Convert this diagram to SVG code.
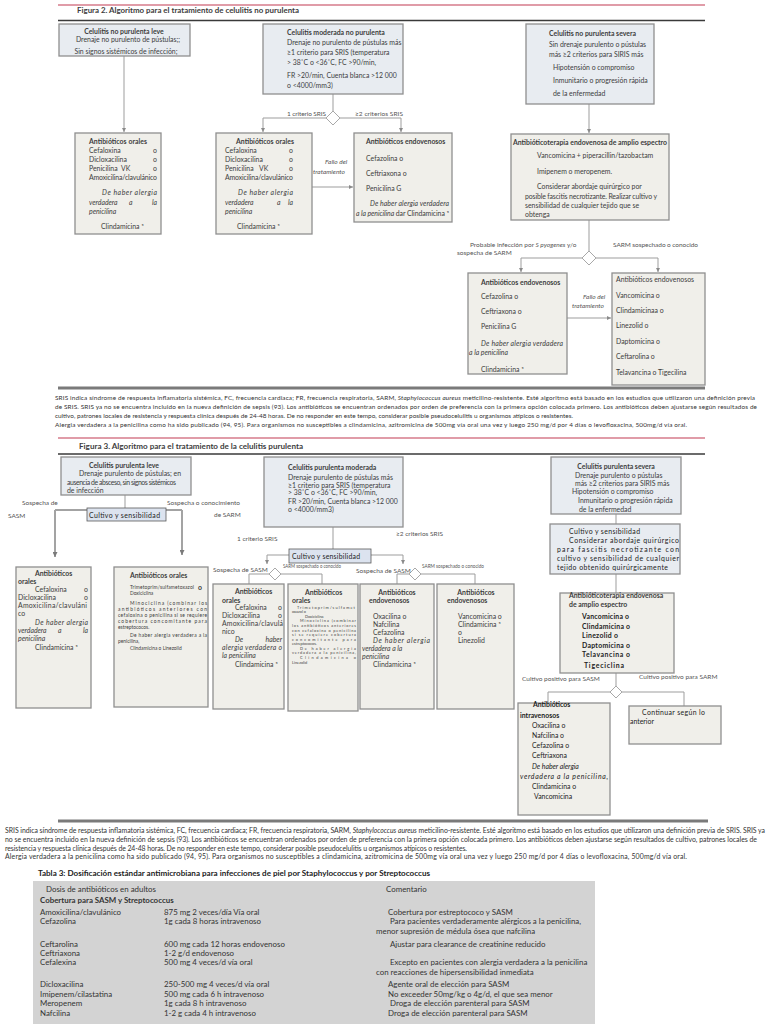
<svg xmlns="http://www.w3.org/2000/svg" width="768" height="1024" viewBox="0 0 768 1024">
<defs>
<marker id="ah" viewBox="0 0 6 6" refX="6" refY="3" markerWidth="4" markerHeight="4" markerUnits="userSpaceOnUse" orient="auto"><path d="M0,0 L6,3 L0,6 z" fill="#8a8a8a"/></marker>
<marker id="ah2" viewBox="0 0 6 6" refX="6" refY="3" markerWidth="5" markerHeight="5" markerUnits="userSpaceOnUse" orient="auto"><path d="M0,0 L6,3 L0,6 z" fill="#7a7a7a"/></marker>
<style>
text{font-family:Lato,"Liberation Sans",sans-serif;fill:#3d3d3d;font-size:6.9px}
.b{font-weight:bold}
.i{font-style:italic}
.m{text-anchor:middle}
.e{text-anchor:end}
.blue{fill:#e8ecf1;stroke:#8f8f8f;stroke-width:1.3}
.beige{fill:#f0efea;stroke:#8f8f8f;stroke-width:1.3}
.cult{fill:#dce3ef;stroke:#5a5a5a;stroke-width:0.8}
.c{stroke:#9d9d9d;stroke-width:1;fill:none}
.ct{stroke:#a3a3a3;stroke-width:2;fill:none}
.dia{fill:#fff;stroke:#a8a8a8;stroke-width:1}
.lbl{font-size:6.5px;fill:#555}
.cap{font-size:6.4px;fill:#333}
.cap2{font-size:6.9px;fill:#333}
.tb{font-size:7.9px;fill:#333}
.k{fill:#222}
.sm{font-size:3.9px}
.sc{font-size:4.9px}
</style>
</defs>
<rect width="768" height="1024" fill="#ffffff"/>

<!-- ===== Figure 2 header ===== -->
<line x1="58" y1="5" x2="705" y2="5" stroke="#c23a52" stroke-width="1.2"/>
<text class="b" x="77" y="13" font-size="7.2" textLength="222" lengthAdjust="spacingAndGlyphs">Figura 2. Algoritmo para el tratamiento de celulitis no purulenta</text>
<line x1="58" y1="20.5" x2="705" y2="20.5" stroke="#3a3a3a" stroke-width="1.3"/>

<!-- ===== Figure 2 connectors ===== -->
<g id="connectors-fig2">
<path class="c" d="M124,56 V132" marker-end="url(#ah)"/>
<path class="c" d="M333,94 V111"/>
<path class="c" d="M326,118 H263 V132" marker-end="url(#ah)"/>
<path class="c" d="M340,118 H401 V132" marker-end="url(#ah)"/>
<polygon class="dia" points="333,111 340,118 333,125 326,118"/>
<path class="c" d="M312,187 H353" marker-end="url(#ah)"/>
<path class="c" d="M589,104 V133" marker-end="url(#ah)"/>
<path class="c" d="M589,220 V251"/>
<path class="c" d="M582,258 H521 V272" marker-end="url(#ah)"/>
<path class="c" d="M596,258 H658 V272" marker-end="url(#ah)"/>
<polygon class="dia" points="589,251 596,258 589,265 582,258"/>
<path class="c" d="M567,318 H611" marker-end="url(#ah)"/>
<text class="lbl" x="287" y="116" textLength="39" lengthAdjust="spacing">1 criterio SRIS</text>
<text class="lbl" x="355" y="116" textLength="48" lengthAdjust="spacing">≥2 criterios SRIS</text>
<text class="lbl i" x="325" y="164">Fallo del</text>
<text class="lbl i" x="313" y="174">tratamiento</text>
<text class="lbl" x="470" y="247" font-size="5.9">Probable infección por <tspan font-style="italic">S pyogenes</tspan> y/o</text>
<text class="lbl" x="457" y="255" font-size="6">sospecha de SARM</text>
<text class="lbl" x="613" y="247" textLength="85" lengthAdjust="spacing">SARM sospechado o conocido</text>
<text class="lbl i" x="583" y="299">Fallo del</text>
<text class="lbl i" x="572" y="308">tratamiento</text>
</g>

<!-- ===== Figure 2 nodes ===== -->
<g id="f2-leve">
<rect class="blue" x="59" y="24" width="131" height="32"/>
<text class="b m" x="124" y="34" font-size="6.7">Celulitis no purulenta leve</text>
<text class="m" x="128" y="41.5">Drenaje no purulento de pústulas;;</text>
<text class="m" x="126" y="54">Sin signos sistémicos de infección;</text>
</g>
<g id="f2-moderada">
<rect class="blue" x="263" y="24" width="140" height="70"/>
<text class="b" x="287" y="35" font-size="6.8">Celulitis moderada no purulenta</text>
<text x="287" y="45" font-size="7.1">Drenaje no purulento de pústulas más</text>
<text x="287" y="55" font-size="7.1">≥1 criterio para SRIS (temperatura</text>
<text x="287" y="65" font-size="7.1">&gt; 38˚C o &lt;36˚C, FC &gt;90/min,</text>
<text x="287" y="78" font-size="7.1">FR &gt;20/min,  Cuenta blanca &gt;12 000</text>
<text x="287" y="88" font-size="7.1">o &lt;4000/mm3)</text>
</g>
<g id="f2-severa">
<rect class="blue" x="526" y="24" width="128" height="80"/>
<text class="b" x="549" y="36" font-size="7.4">Celulitis no purulenta severa</text>
<text x="549" y="47">Sin drenaje purulento o pústulas</text>
<text x="549" y="57">más ≥2  criterios para SIRIS más</text>
<text x="553" y="70">Hipotensión o compromiso</text>
<text x="553" y="83">Inmunitario o progresión rápida</text>
<text x="553" y="96">de la enfermedad</text>
</g>
<g id="f2-orales-1">
<rect class="beige" x="75" y="133" width="86" height="101"/>
<text class="b m" x="118" y="144" textLength="58" lengthAdjust="spacing">Antibióticos orales</text>
<text x="89" y="153">Cefaloxina</text><text class="e" x="157" y="153">o</text>
<text x="89" y="162">Dicloxacilina</text><text class="e" x="157" y="162">o</text>
<text x="89" y="171">Penicilina</text><text x="121" y="171">VK</text><text class="e" x="157" y="171">o</text>
<text x="89" y="180" textLength="68" lengthAdjust="spacing">Amoxicilina/clavulánico</text>
<text class="i" x="102" y="195" textLength="55" lengthAdjust="spacing">De haber alergia</text>
<text class="i" x="89" y="205">verdadera</text><text class="i" x="129" y="205">a</text><text class="i e" x="157" y="205">la</text>
<text class="i" x="89" y="214">penicilina</text>
<text x="101" y="229">Clindamicina ª</text>
</g>
<g id="f2-orales-2">
<rect class="beige" x="216" y="133" width="96" height="101"/>
<text class="b m" x="265" y="144" textLength="58" lengthAdjust="spacing">Antibióticos orales</text>
<text x="225" y="153">Cefaloxina</text><text class="e" x="293" y="153">o</text>
<text x="225" y="162">Dicloxacilina</text><text class="e" x="293" y="162">o</text>
<text x="225" y="171">Penicilina</text><text x="259" y="171">VK</text><text class="e" x="293" y="171">o</text>
<text x="225" y="180" textLength="68" lengthAdjust="spacing">Amoxicilina/clavulánico</text>
<text class="i" x="238" y="195" textLength="55" lengthAdjust="spacing">De haber alergia</text>
<text class="i" x="225" y="205">verdadera</text><text class="i" x="277" y="205">a</text><text class="i e" x="293" y="205">la</text>
<text class="i" x="225" y="214">penicilina</text>
<text x="237" y="229">Clindamicina ª</text>
</g>
<g id="f2-endovenosos-1">
<rect class="beige" x="354" y="133" width="98" height="89"/>
<text class="b" x="366" y="144" font-size="7.2">Antibióticos endovenosos</text>
<text x="366" y="161">Cefazolina o</text>
<text x="366" y="176">Ceftriaxona o</text>
<text x="366" y="191">Penicilina G</text>
<text class="i" x="370" y="206" textLength="79" lengthAdjust="spacing">De haber alergia verdadera</text>
<text x="356" y="216" textLength="93" lengthAdjust="spacing"><tspan font-style="italic">a la penicilina</tspan> dar Clindamicina ª</text>
</g>
<g id="f2-amplio">
<rect class="beige" x="511" y="134" width="158" height="86"/>
<text class="b m" x="590" y="145" font-size="7.1">Antibióticoterapia endovenosa de amplio espectro</text>
<text x="537" y="158" font-size="7.2">Vancomicina + piperacillin/tazobactam</text>
<text x="537" y="174" font-size="7.2">Imipenem o meropenem.</text>
<text x="537" y="189" font-size="7.2">Considerar abordaje quirúrgico por</text>
<text x="525" y="199" font-size="7.2" textLength="132" lengthAdjust="spacing">posible fascitis necrotizante. Realizar cultivo y</text>
<text x="525" y="208" font-size="7.2">sensibilidad de cualquier tejido que se</text>
<text x="525" y="217" font-size="7.2">obtenga</text>
</g>
<g id="f2-endovenosos-2">
<rect class="beige" x="468" y="273" width="99" height="101"/>
<text class="b" x="481" y="285" font-size="7.2">Antibióticos endovenosos</text>
<text x="481" y="299" font-size="7.1">Cefazolina o</text>
<text x="481" y="314" font-size="7.1">Ceftriaxona o</text>
<text x="481" y="329" font-size="7.1">Penicilina G</text>
<text class="i" x="481" y="346" font-size="7.1" textLength="82" lengthAdjust="spacing">De haber alergia verdadera</text>
<text class="i" x="469" y="355" font-size="7.1">a la penicilina</text>
<text x="481" y="372" font-size="7.1">Clindamicina ª</text>
</g>
<g id="f2-sarm">
<rect class="beige" x="612" y="273" width="93" height="112"/>
<text x="616" y="282" font-size="7.3">Antibióticos endovenosos</text>
<text x="616" y="298" font-size="7.1">Vancomicina o</text>
<text x="616" y="313" font-size="7.1">Clindamicinaa o</text>
<text x="616" y="328" font-size="7.1">Linezolid o</text>
<text x="616" y="344" font-size="7.1">Daptomicina o</text>
<text x="616" y="359" font-size="7.1">Ceftarolina o</text>
<text x="616" y="375" font-size="7.1">Telavancina o Tigecilina</text>
</g>
<line x1="58" y1="388" x2="705" y2="388" stroke="#7a7a7a" stroke-width="3"/>

<!-- ===== Caption 1 ===== -->
<g id="caption-1">
<text class="cap" x="55" y="400" textLength="700" lengthAdjust="spacing">SRIS indica síndrome de respuesta inflamatoria sistémica, FC, frecuencia cardiaca; FR, frecuencia respiratoria, SARM, <tspan font-style="italic">Staphylococcus aureus</tspan> meticilino-resistente. Esté algoritmo está basado en los estudios que utilizaron una definición previa</text>
<text class="cap" x="55" y="409" textLength="702" lengthAdjust="spacing">de SRIS. SRIS ya no se encuentra incluido en  la nueva definición de sepsis (93). Los antibióticos se encuentran ordenados por orden de preferencia con la primera opción colocada primero. Los antibióticos deben ajustarse según resultados de</text>
<text class="cap" x="55" y="418">cultivo, patrones locales de resistencia y respuesta clínica después de 24-48 horas. De no responder en este tempo, considerar posible pseudocelulitis u organismos atípicos o resistentes.</text>
<text class="cap" x="55" y="427" textLength="632" lengthAdjust="spacing">Alergia verdadera a la penicilina como ha sido publicado (94, 95). Para organismos no susceptibles a clindamicina, azitromicina de 500mg vía oral una vez y luego 250 mg/d por 4 días o  levofloxacina, 500mg/d vía oral.</text>
</g>

<!-- ===== Figure 3 header ===== -->
<line x1="58" y1="438" x2="705" y2="438" stroke="#c23a52" stroke-width="1.2"/>
<text class="b" x="79" y="449" font-size="7.2" textLength="224" lengthAdjust="spacingAndGlyphs">Figura 3.  Algoritmo para el tratamiento de la celulitis purulenta</text>
<line x1="58" y1="454" x2="705" y2="454" stroke="#3a3a3a" stroke-width="1.3"/>

<!-- ===== Figure 3 connectors ===== -->
<g id="connectors-fig3">
<path class="c" d="M125,495 V508" stroke-width="1.5"/>
<path class="ct" d="M55,510 H182"/>
<path class="ct" d="M55,510 V557" marker-end="url(#ah2)"/>
<path class="ct" d="M182,510 V555" marker-end="url(#ah2)"/>
<path class="c" d="M333,527 V549" stroke-width="1.5"/>
<path class="c" d="M267,555 H403"/>
<path class="c" d="M267,555 V564" marker-end="url(#ah)"/>
<path class="c" d="M403,555 V564" marker-end="url(#ah)"/>
<path class="c" d="M269,574 H249 V584"/>
<path class="c" d="M281,574 H322 V584"/>
<path class="c" d="M409,574 H397 V584"/>
<path class="c" d="M421,574 H475 V584"/>
<polygon class="dia" points="275,568 281,574 275,580 269,574"/>
<polygon class="dia" points="415,568 421,574 415,580 409,574"/>
<path class="c" d="M616,514 V524" stroke-width="1.5"/>
<path class="c" d="M616,574 V593" stroke-width="1.5"/>
<path class="c" d="M616,673 V686" stroke-width="1.5"/>
<path class="c" d="M610,692 H548 V703"/>
<path class="c" d="M622,692 H684 V706"/>
<polygon class="dia" points="616,686 622,692 616,698 610,692"/>
<text class="lbl" x="22" y="505" font-size="6.8">Sospecha de</text>
<text class="lbl" x="8" y="518" font-size="6.8">SASM</text>
<text class="lbl" x="167" y="505" font-size="6.8" textLength="73" lengthAdjust="spacing">Sospecha o conocimiento</text>
<text class="lbl" x="214" y="517" font-size="6.8">de SARM</text>
<text class="lbl" x="237" y="541" font-size="6">1 criterio SRIS</text>
<text class="lbl" x="396" y="536" font-size="6">≥2 criterios SRIS</text>
<text class="lbl" x="213" y="572" font-size="5.6">Sospecha de SASM</text>
<text class="lbl" x="283" y="568" font-size="4" textLength="58" lengthAdjust="spacingAndGlyphs">SARM sospechado o conocido</text>
<text class="lbl" x="356" y="573" font-size="5.6">Sospecha de SASM</text>
<text class="lbl" x="422" y="568" font-size="4" textLength="62" lengthAdjust="spacingAndGlyphs">SARM sospechado o conocido</text>
<text class="lbl" x="522" y="681" font-size="6.9">Cultivo positivo para SASM</text>
<text class="lbl" x="639" y="679" font-size="6.9">Cultivo positivo para SARM</text>
</g>

<!-- ===== Figure 3 nodes ===== -->
<g id="f3-leve">
<rect class="blue" x="61" y="457" width="130" height="38"/>
<text class="b m" x="124" y="468" font-size="6.6">Celulitis purulenta leve</text>
<text x="79" y="476" font-size="6.5">Drenaje purulento de pústulas; en</text>
<text x="67" y="485" font-size="6.5" textLength="109" lengthAdjust="spacing">ausencia de absceso, sin signos sistémicos</text>
<text x="67" y="493" font-size="6.5">de infección</text>
</g>
<g id="f3-cultivo-1">
<rect class="cult" x="87" y="508" width="79" height="13"/>
<text x="89" y="518" font-size="7.8" class="k" textLength="71" lengthAdjust="spacing">Cultivo y sensibilidad</text>
</g>
<g id="f3-orales-sasm">
<rect class="beige" x="16" y="567" width="75" height="141"/>
<text class="b" x="35" y="576" font-size="7.2">Antibióticos</text>
<text class="b" x="18" y="584" font-size="7.2">orales</text>
<text x="35" y="592" font-size="7.2">Cefaloxina</text><text class="e" x="88" y="592" font-size="7.2">o</text>
<text x="18" y="600" font-size="7.2">Dicloxacilina</text><text class="e" x="88" y="600" font-size="7.2">o</text>
<text x="18" y="608" font-size="7.2" textLength="69" lengthAdjust="spacing">Amoxicilina/clavuláni</text>
<text x="18" y="616" font-size="7.2">co</text>
<text class="i" x="35" y="625" font-size="7.2" textLength="53" lengthAdjust="spacing">De haber alergia</text>
<text class="i" x="18" y="633" font-size="7.2">verdadera</text><text class="i" x="58" y="633" font-size="7.2">a</text><text class="i e" x="88" y="633" font-size="7.2">la</text>
<text class="i" x="18" y="641" font-size="7.2">penicilina</text>
<text x="35" y="650" font-size="7.2">Clindamicina ª</text>
</g>
<g id="f3-orales-sarm">
<rect class="beige" x="114" y="567" width="94" height="140"/>
<text class="b" x="130" y="578" font-size="7">Antibióticos orales</text>
<text class="sc" x="130" y="589" textLength="64" lengthAdjust="spacing">Trimetoprim/sulfametoxazol</text><text class="b" x="198" y="590" font-size="7">o</text>
<text class="sc" x="130" y="595">Doxiciclina</text>
<text class="sc" x="130" y="605" textLength="77" lengthAdjust="spacing">Minociclina   (combinar   los</text>
<text class="sc" x="118" y="611" textLength="89" lengthAdjust="spacing">antibióticos anteriores con</text>
<text class="sc" x="118" y="617" textLength="89" lengthAdjust="spacing">cefaloxina o penicilina si se requiere</text>
<text class="sc" x="118" y="623" textLength="89" lengthAdjust="spacing">cobertura concomitante para</text>
<text class="sc" x="118" y="629">estreptococos.</text>
<text class="sc" x="130" y="637" textLength="77" lengthAdjust="spacing">De haber alergia verdadera a la</text>
<text class="sc" x="118" y="643">penicilina,</text>
<text class="sc" x="130" y="650">Clindamicina o Linezolid</text>
</g>
<g id="f3-moderada">
<rect class="blue" x="264" y="457" width="139" height="70"/>
<text class="b" x="288" y="470" font-size="6.6">Celulitis purulenta moderada</text>
<text x="288" y="480" font-size="7.1">Drenaje purulento de pústulas más</text>
<text x="288" y="487.5" font-size="7.1">≥1 criterio para SRIS (temperatura</text>
<text x="288" y="495" font-size="7.1">&gt; 38˚C o &lt;36˚C, FC &gt;90/min,</text>
<text x="288" y="504" font-size="7.1">FR &gt;20/min,  Cuenta blanca &gt;12 000</text>
<text x="288" y="512" font-size="7.1">o &lt;4000/mm3)</text>
</g>
<g id="f3-cultivo-2">
<rect class="cult" x="289" y="549" width="82" height="14"/>
<text x="292" y="558.5" font-size="7.6" class="k" textLength="68" lengthAdjust="spacing">Cultivo y sensibilidad</text>
</g>
<g id="f3-orales-2">
<rect class="beige" x="213" y="584" width="71" height="125"/>
<text class="b" x="235" y="594" font-size="6.9">Antibióticos</text>
<text class="b" x="222" y="603" font-size="6.9">orales</text>
<text x="235" y="610" font-size="6.9">Cefaloxina</text><text class="e" x="282" y="610" font-size="6.9">o</text>
<text x="222" y="618" font-size="6.9">Dicloxacilina</text><text class="e" x="282" y="618" font-size="6.9">o</text>
<text x="222" y="626" font-size="6.9" textLength="61" lengthAdjust="spacing">Amoxicilina/clavulá</text>
<text x="222" y="634" font-size="6.9">nico</text>
<text class="i" x="235" y="642" font-size="6.9">De</text><text class="i e" x="282" y="642" font-size="6.9">haber</text>
<text class="i" x="222" y="650" font-size="6.9" textLength="60" lengthAdjust="spacing">alergia verdadera o</text>
<text class="i" x="222" y="658" font-size="6.9">la penicilina</text>
<text x="235" y="667" font-size="6.9">Clindamicina ª</text>
</g>
<g id="f3-orales-3">
<rect class="beige" x="288" y="584" width="70" height="127"/>
<text class="b" x="305" y="595" font-size="6.6">Antibióticos</text>
<text class="b" x="292" y="603" font-size="6.6">orales</text>
<text class="sm" x="297" y="608.5" textLength="58" lengthAdjust="spacing">Trimetoprim/sulfamet</text>
<text class="sm" x="292" y="613">oxazol o</text>
<text class="sm" x="305" y="617.5">Doxiciclina</text>
<text class="sm" x="300" y="622" textLength="56" lengthAdjust="spacing">Minociclina (combinar</text>
<text class="sm" x="292" y="627" textLength="64" lengthAdjust="spacing">los antibióticos anteriores</text>
<text class="sm" x="292" y="631.5" textLength="64" lengthAdjust="spacing">con cefaloxina o penicilina</text>
<text class="sm" x="292" y="636" textLength="64" lengthAdjust="spacing">si se requiere cobertura</text>
<text class="sm" x="292" y="640.5" textLength="64" lengthAdjust="spacing">concomitante para</text>
<text class="sm" x="292" y="645">estreptococos.</text>
<text class="sm" x="300" y="649.5" textLength="56" lengthAdjust="spacing">De haber alergia</text>
<text class="sm" x="292" y="654" textLength="64" lengthAdjust="spacing">verdadera a la penicilina,</text>
<text class="sm" x="300" y="659" textLength="56" lengthAdjust="spacing">Clindamicina o</text>
<text class="sm" x="292" y="664">Linezolid</text>
</g>
<g id="f3-endo-sasm">
<rect class="beige" x="360" y="584" width="74" height="125"/>
<text class="b m" x="397" y="595" font-size="6.8">Antibióticos</text>
<text class="b" x="369" y="603" font-size="6.8">endovenosos</text>
<text x="373" y="619" font-size="7.4">Oxacilina o</text>
<text x="373" y="627" font-size="7.4">Nafcilina</text>
<text x="373" y="635" font-size="7.4">Cefazolina</text>
<text class="i" x="373" y="643" font-size="7.4" textLength="57" lengthAdjust="spacing">De haber alergia</text>
<text class="i" x="362" y="651" font-size="7.4">verdadera a la</text>
<text class="i" x="362" y="659" font-size="7.4">penicilina</text>
<text x="373" y="667" font-size="7.4">Clindamicina ª</text>
</g>
<g id="f3-endo-sarm">
<rect class="beige" x="437" y="584" width="77" height="125"/>
<text class="b m" x="476" y="595" font-size="6.8">Antibióticos</text>
<text class="b" x="447" y="603" font-size="6.8">endovenosos</text>
<text x="458" y="619" font-size="7.4">Vancomicina o</text>
<text x="458" y="627" font-size="7.4">Clindamicina ª</text>
<text x="458" y="635" font-size="7.4">o</text>
<text x="458" y="643" font-size="7.4">Linezolid</text>
</g>
<g id="f3-severa">
<rect class="blue" x="551" y="457" width="130" height="57"/>
<text class="b m" x="616" y="469" font-size="7.2">Celulitis purulenta severa</text>
<text x="575" y="478" font-size="6.9">Drenaje purulento o pústulas</text>
<text x="575" y="486" font-size="6.9">más ≥2  criterios para SIRIS más</text>
<text x="572" y="494" font-size="6.9">Hipotensión o compromiso</text>
<text x="578" y="503" font-size="6.9">Inmunitario o progresión rápida</text>
<text x="579" y="512" font-size="6.9">de la enfermedad</text>
</g>
<g id="f3-cultivo-3">
<rect class="blue" x="550" y="524" width="130" height="50"/>
<text x="569" y="534" font-size="7.8" class="k" textLength="71" lengthAdjust="spacing">Cultivo y sensibilidad</text>
<text x="569" y="543" font-size="7.8" class="k" textLength="110" lengthAdjust="spacing">Considerar abordaje quirúrgico</text>
<text x="557" y="552" font-size="7.8" class="k" textLength="122" lengthAdjust="spacing">para fascitis necrotizante con</text>
<text x="557" y="561" font-size="7.8" class="k" textLength="122" lengthAdjust="spacing">cultivo y sensibilidad de cualquier</text>
<text x="557" y="570" font-size="7.8" class="k" textLength="111" lengthAdjust="spacing">tejido obtenido quirúrgicamente</text>
</g>
<g id="f3-amplio">
<rect class="beige" x="560" y="593" width="114" height="80"/>
<text class="b" x="569" y="598" font-size="7">Antibióticoterapia endovenosa</text>
<text class="b" x="569" y="607" font-size="7">de amplio espectro</text>
<text class="b k" x="582" y="619" font-size="7.4" textLength="47" lengthAdjust="spacing">Vancomicina o</text>
<text class="b k" x="582" y="629" font-size="7.4" textLength="48" lengthAdjust="spacing">Clindamicina o</text>
<text class="b k" x="582" y="638" font-size="7.4" textLength="36" lengthAdjust="spacing">Linezolid o</text>
<text class="b k" x="582" y="648" font-size="7.4" textLength="48" lengthAdjust="spacing">Daptomicina o</text>
<text class="b k" x="582" y="657" font-size="7.4" textLength="48" lengthAdjust="spacing">Telavancina o</text>
<text class="b k" x="584" y="668" font-size="7.4" textLength="40" lengthAdjust="spacing">Tigeciclina</text>
</g>
<g id="f3-intravenosos">
<rect class="beige" x="518" y="703" width="92" height="112"/>
<text class="b k" x="533" y="707" font-size="7.8">Antibióticos</text>
<text class="b k" x="520" y="718" font-size="7.8">intravenosos</text>
<text class="k" x="532" y="728" font-size="7.8">Oxacilina o</text>
<text class="k" x="532" y="738" font-size="7.8">Nafcilina o</text>
<text class="k" x="532" y="748" font-size="7.8">Cefazolina o</text>
<text class="k" x="532" y="758" font-size="7.8">Ceftriaxona</text>
<text class="i k" x="532" y="769" font-size="7.8">De haber alergia</text>
<text class="i k" x="520" y="779" font-size="7.8" textLength="88" lengthAdjust="spacing">verdadera a la penicilina,</text>
<text class="k" x="532" y="789" font-size="7.8">Clindamicina o</text>
<text class="k" x="534" y="799" font-size="7.8">Vancomicina</text>
</g>
<g id="f3-continuar">
<rect class="beige" x="629" y="706" width="92" height="38"/>
<text class="k" x="642" y="715" font-size="8" textLength="63" lengthAdjust="spacing">Continuar según lo</text>
<text class="k" x="630" y="724" font-size="8">anterior</text>
</g>
<line x1="58" y1="821" x2="708" y2="821" stroke="#7a7a7a" stroke-width="3"/>

<!-- ===== Caption 2 ===== -->
<g id="caption-2">
<text class="cap2" x="5" y="833" textLength="760" lengthAdjust="spacing">SRIS indica síndrome de respuesta inflamatoria sistémica, FC, frecuencia cardiaca; FR, frecuencia respiratoria, SARM, <tspan font-style="italic">Staphylococcus aureus</tspan> meticilino-resistente. Esté algoritmo está basado en los estudios que utilizaron una definición previa de SRIS. SRIS ya</text>
<text class="cap2" x="5" y="842" textLength="752" lengthAdjust="spacing">no se encuentra incluido en la nueva definición de sepsis (93). Los antibióticos se encuentran ordenados por orden de preferencia con la primera opción colocada primero. Los antibióticos deben ajustarse según resultados de cultivo, patrones locales de</text>
<text class="cap2" x="5" y="851" textLength="462" lengthAdjust="spacing">resistencia y respuesta clínica después de 24-48 horas. De no responder en este tempo, considerar posible pseudocelulitis u organismos atípicos o resistentes.</text>
<text class="cap2" x="5" y="859" textLength="682" lengthAdjust="spacing">Alergia verdadera a la penicilina como ha sido publicado (94, 95). Para organismos no susceptibles a clindamicina, azitromicina de 500mg vía oral una vez y luego 250 mg/d por 4 días o levofloxacina, 500mg/d vía oral.</text>
</g>

<!-- ===== Table 3 ===== -->
<g id="table-3">
<text class="b k" x="38" y="876" font-size="7.6" textLength="392" lengthAdjust="spacingAndGlyphs">Tabla 3: Dosificación estándar antimicrobiana para infecciones de piel por Staphylococcus y por Streptococcus</text>
<rect x="33" y="881" width="562" height="143" fill="#d3d3d3"/>
<text class="tb" x="46" y="892">Dosis de antibióticos en adultos</text>
<text class="tb" x="386" y="892">Comentario</text>
<text class="tb b" x="40" y="903">Cobertura para SASM y Streptococcus</text>
<text class="tb" x="40" y="915">Amoxicilina/clavulánico</text><text class="tb" x="164" y="915">875 mg 2 veces/día Vía oral</text><text class="tb" x="388" y="915">Cobertura por estreptococo y SASM</text>
<text class="tb" x="40" y="924">Cefazolina</text><text class="tb" x="164" y="924">1g cada 8 horas intravenoso</text><text class="tb" x="390" y="924">Para pacientes verdaderamente alérgicos a la penicilina,</text>
<text class="tb" x="376" y="934">menor supresión de médula ósea que nafcilina</text>
<text class="tb" x="40" y="947">Ceftarolina</text><text class="tb" x="164" y="947">600 mg cada 12 horas endovenoso</text><text class="tb" x="390" y="947">Ajustar para clearance de creatinine reducido</text>
<text class="tb" x="40" y="956">Ceftriaxona</text><text class="tb" x="164" y="956">1-2 g/d  endovenoso</text>
<text class="tb" x="40" y="965">Cefalexina</text><text class="tb" x="164" y="965">500 mg 4 veces/d vía oral</text><text class="tb" x="390" y="965">Excepto en pacientes con alergia verdadera a la penicilina</text>
<text class="tb" x="376" y="975">con reacciones de hipersensibilidad inmediata</text>
<text class="tb" x="40" y="987">Dicloxacilina</text><text class="tb" x="164" y="987">250-500 mg 4 veces/d vía oral</text><text class="tb" x="388" y="987">Agente oral de elección para SASM</text>
<text class="tb" x="40" y="997">Imipenem/cilastatina</text><text class="tb" x="164" y="997">500 mg cada 6 h intravenoso</text><text class="tb" x="388" y="997">No exceeder 50mg/kg o 4g/d, el que sea menor</text>
<text class="tb" x="40" y="1006">Meropenem</text><text class="tb" x="164" y="1006">1g cada 8 h intravenoso</text><text class="tb" x="390" y="1006">Droga de elección parenteral para SASM</text>
<text class="tb" x="40" y="1016">Nafcilina</text><text class="tb" x="164" y="1016">1-2 g cada 4 h intravenoso</text><text class="tb" x="388" y="1016">Droga de elección parenteral para SASM</text>
</g>
</svg>
